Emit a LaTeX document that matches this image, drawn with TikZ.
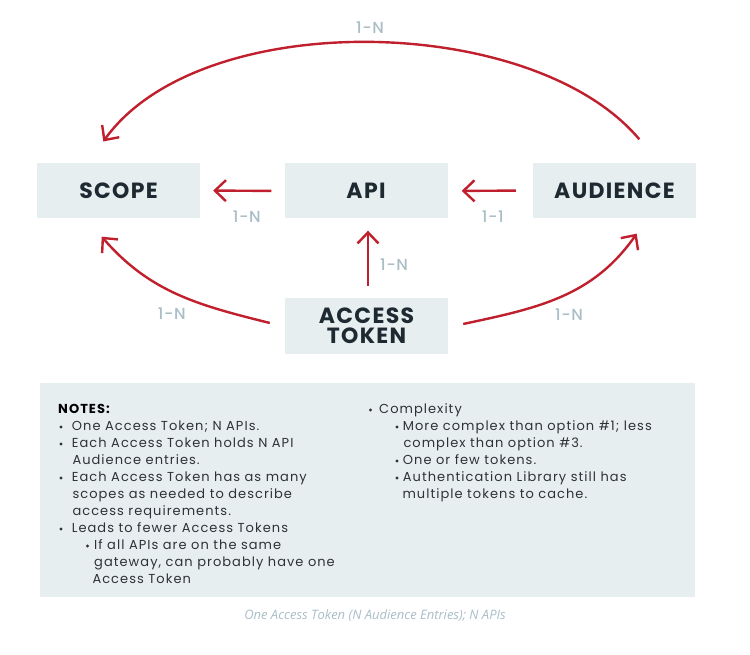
\documentclass[tikz,border=0pt]{standalone}
\usepackage{fontspec}
\setmainfont{Poppins}
\newfontfamily\boxfont{Poppins}[UprightFont=* Bold, LetterSpace=6]
\newfontfamily\lblfont{Poppins}[UprightFont=* Medium, LetterSpace=4]
\newfontfamily\notefont{Poppins}[UprightFont=*, BoldFont=* Bold, LetterSpace=8]
\newfontfamily\capfont{Open Sans}
\usetikzlibrary{arrows.meta,calc}
\definecolor{redc}{RGB}{192,32,46}
\definecolor{boxc}{RGB}{231,238,240}
\definecolor{lblc}{RGB}{170,190,200}
\definecolor{darkc}{RGB}{30,42,50}
\definecolor{notec}{RGB}{45,50,55}
\tikzset{
  box/.style={fill=boxc, draw=none, minimum width=163pt, minimum height=55pt, inner sep=0pt,
    font=\boxfont\fontsize{22}{20}\selectfont, text=darkc, align=center},
  arr/.style={draw=redc, line width=2.4pt, -{Straight Barb[length=11pt,width=21pt]}},
  lbl/.style={font=\lblfont\fontsize{16}{18}\selectfont, text=lblc, inner sep=0pt},
  nt/.style={anchor=base west, inner sep=0pt, font=\notefont\fontsize{13}{15}\selectfont, text=notec},
  bul/.style={circle, fill=notec, inner sep=0pt, minimum size=3.4pt}
}
\begin{document}
\begin{tikzpicture}[x=1pt,y=1pt]
\useasboundingbox[fill=white] (0,0) rectangle (750,655);
% boxes
\node[box] (scope) at (118.5,464.5) {SCOPE};
\node[box] (api) at (366,464) {API};
\node[box] (aud) at (614.5,464.5) {AUDIENCE};
\node[box, minimum height=56pt] (tok) at (366.5,329) {ACCESS\\TOKEN};
% straight arrows
\draw[arr, shorten <=13pt, shorten >=13pt] (api.west) -- (scope.east);
\draw[arr, shorten <=17pt, shorten >=14pt] (aud.west) -- (api.east);
\draw[arr, shorten <=12pt, shorten >=12pt] ([xshift=1.5pt]tok.north) -- ([xshift=2pt]api.south);
% curved arrows
\coordinate (tsS) at ($(tok.west)+(-15,3)$);
\coordinate (tsE) at ($(scope.south)+(-16.8,-18.5)$);
\draw[arr] (tsS) to[out=166,in=-49] (tsE);
\coordinate (taS) at ($(tok.east)+(15,2)$);
\coordinate (taE) at ($(aud.south)+(22.2,-15.5)$);
\draw[arr] (taS) to[out=12,in=235] (taE);
\coordinate (topS) at ($(aud.north)+(24.8,23.5)$);
\coordinate (topE) at ($(scope.north)+(-15.2,21.3)$);
\draw[arr] (topS) to[out=130,in=54.5,looseness=0.79] (topE);
% labels
\node[lbl] (l1) at (370,627.3) {1-N};
\node[lbl] (l2) at (246.7,438.3) {1-N};
\node[lbl] (l3) at (492.7,438.3) {1-1};
\node[lbl] (l4) at (394,390) {1-N};
\node[lbl] (l5) at (171.7,341.7) {1-N};
\node[lbl] (l6) at (569,340.7) {1-N};
% notes panel
\node[fill=boxc, minimum width=655pt, minimum height=214pt, inner sep=0pt] (notes) at (367.5,165) {};
\node[nt, font=\notefont\bfseries\fontsize{13}{15}\selectfont, text=black] (n0) at (58,241.5) {NOTES:};
\node[bul] (b1) at (61,228) {};
\node[nt] (n1) at (71.7,224.5) {One Access Token; N APIs.};
\node[bul] (b2) at (61,211) {};
\node[nt] (n2) at (71.7,207.5) {Each Access Token holds N API};
\node[nt] (n3) at (72.3,190.5) {Audience entries.};
\node[bul] (b3) at (61,177) {};
\node[nt] (n4) at (71.7,173.5) {Each Access Token has as many};
\node[nt] (n5) at (72.3,156.5) {scopes as needed to describe};
\node[nt] (n6) at (72.3,139.5) {access requirements.};
\node[bul] (b4) at (61,126) {};
\node[nt] (n7) at (71.7,122.5) {Leads to fewer Access Tokens};
\node[bul] (b5) at (87.5,109) {};
\node[nt] (n8) at (94,105.5) {If all APIs are on the same};
\node[nt] (n9) at (94,88.5) {gateway, can probably have one};
\node[nt] (n10) at (92.3,71.5) {Access Token};
\node[bul] (b6) at (370.5,245) {};
\node[nt] (r1) at (379,241.5) {Complexity};
\node[bul] (b7) at (397,228) {};
\node[nt] (r2) at (402.7,224.5) {More complex than option \#1; less};
\node[nt] (r3) at (403.3,207.5) {complex than option \#3.};
\node[bul] (b8) at (397,194) {};
\node[nt] (r4) at (402.7,190.5) {One or few tokens.};
\node[bul] (b9) at (397,177) {};
\node[nt] (r5) at (402.7,173.5) {Authentication Library still has};
\node[nt] (r6) at (402.3,156.5) {multiple tokens to cache.};
% caption
\node[font=\capfont\itshape\fontsize{13}{15}\selectfont, text=lblc, inner sep=0pt] (cap) at (375,39) {One Access Token (N Audience Entries); N APIs};
\end{tikzpicture}
\end{document}
